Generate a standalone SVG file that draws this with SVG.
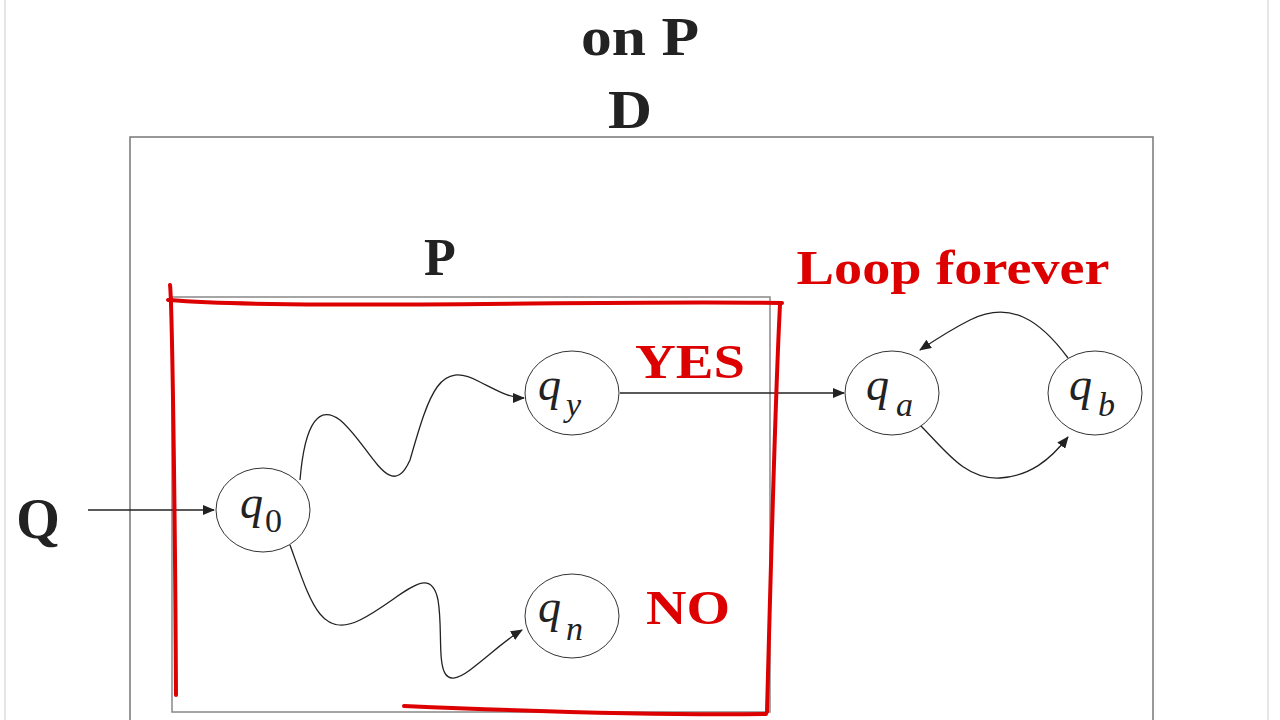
<svg xmlns="http://www.w3.org/2000/svg" width="1280" height="720" viewBox="0 0 1280 720">
<defs>
<marker id="ah" markerWidth="12" markerHeight="10" refX="11" refY="5" orient="auto" markerUnits="userSpaceOnUse"><path d="M0,0 L12,5 L0,10 Z" fill="#222"/></marker>
<style>
.node{fill:#fff;stroke:#333;stroke-width:1}
.q{font-family:"Liberation Serif",serif;font-style:italic;font-size:46px;fill:#222}
.s{font-family:"Liberation Serif",serif;font-style:italic;font-size:34px;fill:#222}
.t{font-family:"Liberation Serif",serif;font-weight:bold;font-size:52px;fill:#222;text-anchor:middle}
.r{font-family:"Liberation Serif",serif;font-weight:bold;font-size:48px;fill:#d00;text-anchor:middle}
.c{fill:none;stroke:#222;stroke-width:1.3}
</style>
</defs>
<rect width="1280" height="720" fill="#fff"/>
<line x1="5" y1="0" x2="5" y2="720" stroke="#ccc"/>
<line x1="1268" y1="0" x2="1268" y2="720" stroke="#ccc"/>
<text class="t" x="640" y="55" style="font-size:54px" textLength="118" lengthAdjust="spacingAndGlyphs">on P</text>
<text class="t" x="630" y="128" style="font-size:54px" textLength="44" lengthAdjust="spacingAndGlyphs">D</text>
<rect x="130" y="137" width="1023" height="600" fill="none" stroke="#777" stroke-width="1.5"/>
<rect x="172" y="297" width="598" height="415" fill="none" stroke="#888" stroke-width="1.5"/>
<text class="t" x="440" y="275">P</text>
<text class="t" x="38" y="538" style="font-size:56px">Q</text>
<g id="connectors">
<line class="c" x1="88" y1="510" x2="214" y2="510" marker-end="url(#ah)"/>
<path class="c" d="M300,480 C305,420 320,405 340,420 C370,445 390,505 410,460 C430,390 440,360 480,382 C500,392 510,398 524,398" marker-end="url(#ah)"/>
<path class="c" d="M290,545 C310,600 320,640 360,620 C400,600 430,560 438,600 C445,640 430,700 470,670 C490,655 505,640 522,630" marker-end="url(#ah)"/>
<line class="c" x1="620" y1="393" x2="844" y2="393" marker-end="url(#ah)"/>
<path class="c" d="M1068,358 C1040,320 1010,300 970,320 C950,330 935,340 920,350" marker-end="url(#ah)"/>
<path class="c" d="M920,425 C945,450 965,480 1000,478 C1030,476 1050,460 1068,437" marker-end="url(#ah)"/>
</g>
<g id="q0"><ellipse class="node" cx="263" cy="510" rx="47" ry="42"/><text class="q" x="240" y="518">q</text><text class="s" x="265" y="532" style="font-style:normal">0</text></g>
<g id="qy"><ellipse class="node" cx="572" cy="393" rx="47" ry="42"/><text class="q" x="538" y="400">q</text><text class="s" x="566" y="416">y</text></g>
<g id="qn"><ellipse class="node" cx="572" cy="616" rx="47" ry="42"/><text class="q" x="538" y="622">q</text><text class="s" x="566" y="640">n</text></g>
<g id="qa"><ellipse class="node" cx="892" cy="393" rx="47" ry="42"/><text class="q" x="866" y="400">q</text><text class="s" x="896" y="416">a</text></g>
<g id="qb"><ellipse class="node" cx="1095" cy="393" rx="47" ry="42"/><text class="q" x="1069" y="400">q</text><text class="s" x="1098" y="416">b</text></g>
<text class="r" x="690" y="378" textLength="110" lengthAdjust="spacingAndGlyphs">YES</text>
<text class="r" x="688" y="624" textLength="84" lengthAdjust="spacingAndGlyphs">NO</text>
<text class="r" x="953" y="284" textLength="313" lengthAdjust="spacingAndGlyphs">Loop forever</text>
<g fill="none" stroke="#d00" stroke-width="4" stroke-linecap="round">
<path d="M170,285 C172,300 175,500 176,695"/>
<path d="M168,300 C300,310 600,300 782,303"/>
<path d="M780,305 C775,400 770,600 767,712"/>
<path d="M404,706 C500,710 650,716 766,714"/>
</g>
</svg>
